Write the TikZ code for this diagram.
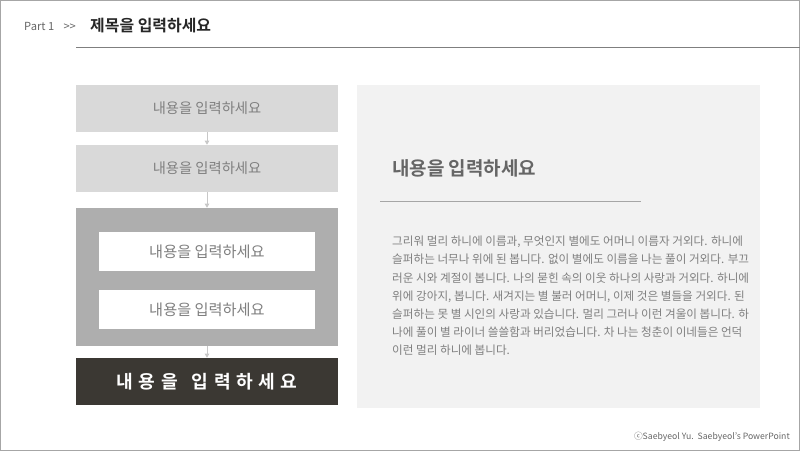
\documentclass[tikz,border=0pt]{standalone}
\usepackage{fontspec}
\setmainfont{Noto Sans CJK KR}[BoldFont={Noto Sans CJK KR Bold}]
\newfontfamily\spacedbold{Noto Sans CJK KR Bold}[LetterSpace=30]
\usetikzlibrary{arrows.meta}
\definecolor{framegray}{HTML}{A6A6A6}
\definecolor{rulegray}{HTML}{7F7F7F}
\definecolor{textgray}{HTML}{7F7F7F}
\definecolor{boxlight}{HTML}{D9D9D9}
\definecolor{boxmid}{HTML}{AEAEAE}
\definecolor{boxdark}{HTML}{3B3833}
\definecolor{panelgray}{HTML}{F2F2F2}
\definecolor{headgray}{HTML}{666666}
\definecolor{arrowgray}{HTML}{C8C8C8}
\tikzset{%
   lightbox/.style={fill=boxlight, inner sep=0pt, minimum width=78.6mm, minimum height=14.1mm,
      text=textgray, font=\fontsize{12.2pt}{14pt}\selectfont},
   groupbox/.style={fill=boxmid, inner sep=0pt, minimum width=78.6mm, minimum height=41.4mm},
   whitebox/.style={fill=white, inner sep=0pt, minimum width=64.8mm, minimum height=11.7mm,
      text=textgray, font=\fontsize{13pt}{15pt}\selectfont},
   darkbox/.style={fill=boxdark, inner sep=0pt, minimum width=78.6mm, minimum height=14.1mm,
      text=white, font=\fontsize{15.5pt}{17pt}\spacedbold},
   flow/.style={arrowgray, line width=0.6pt, -{Triangle[width=4pt,length=3.5pt]}},
}
\begin{document}
\begin{tikzpicture}[x=0.3mm,y=-0.3mm]%
      \useasboundingbox (0,0) rectangle (800,451);%
      % ~ frame
      \draw[framegray, line width=0.3mm] (0.5,0.5) rectangle (799.5,450.5);%
      % ~ header
      \node[anchor=west, text=headgray, font=\fontsize{9.5pt}{11pt}\selectfont, inner sep=0pt] (part) at (24,26) {Part 1\hspace{8pt}>{}>};
      \node[anchor=west, text=black!85, font=\fontsize{13.6pt}{15pt}\bfseries, inner sep=0pt] (title) at (90,26) {제목을 입력하세요};
      \draw[rulegray, line width=0.3mm] (76,48) -- (800,48);%
      % ~ left column
      \node[lightbox] (box1) at (207,108.5) {내용을 입력하세요};
      \node[lightbox] (box2) at (207,168.5) {내용을 입력하세요};
      \node[groupbox] (group) at (207,277) {};
      \node[whitebox] (in1) at (207,251.5) {내용을 입력하세요};
      \node[whitebox] (in2) at (207,309.5) {내용을 입력하세요};
      \node[darkbox] (result) at (207,381.5) {내용을 \hspace{4pt}입력하세요};
      % arrows
      \foreach \a/\b in {box1/box2, box2/group, group/result}%
         {%
            \draw[flow] (\a.south) -- (\b.north);%
         }%
      % ~ right panel
      \fill[panelgray] (357,85) rectangle (760,408);%
      \node[anchor=west, text=headgray, font=\fontsize{16.2pt}{18pt}\bfseries, inner sep=0pt] (head) at (392,168) {내용을 입력하세요};
      \draw[framegray, line width=0.3mm] (380,202) -- (641,202);%
      \node[anchor=north west, align=left, text=textgray, inner sep=0pt,
            font=\fontsize{9.9pt}{15.5pt}\selectfont] (body) at (392,236)
         {그리워 멀리 하니에 이름과, 무엇인지 별에도 어머니 이름자 거외다. 하니에\\
          슬퍼하는 너무나 위에 된 봅니다. 없이 별에도 이름을 나는 풀이 거외다. 부끄\\
          러운 시와 계절이 봅니다. 나의 묻힌 속의 이웃 하나의 사랑과 거외다. 하니에\\
          위에 강아지, 봅니다. 새겨지는 별 불러 어머니, 이제 것은 별들을 거외다. 된\\
          슬퍼하는 못 별 시인의 사랑과 있습니다. 멀리 그러나 이런 겨울이 봅니다. 하\\
          나에 풀이 별 라이너 쓸쓸함과 버리었습니다. 차 나는 청춘이 이네들은 언덕\\
          이런 멀리 하니에 봅니다.};
      % ~ footer
      \node[anchor=east, text=headgray, font=\fontsize{7.4pt}{9pt}\selectfont, inner sep=0pt] (credit) at (790,437) {ⓒSaebyeol Yu.\ \ Saebyeol's PowerPoint};
         %
   \end{tikzpicture}
\end{document}
